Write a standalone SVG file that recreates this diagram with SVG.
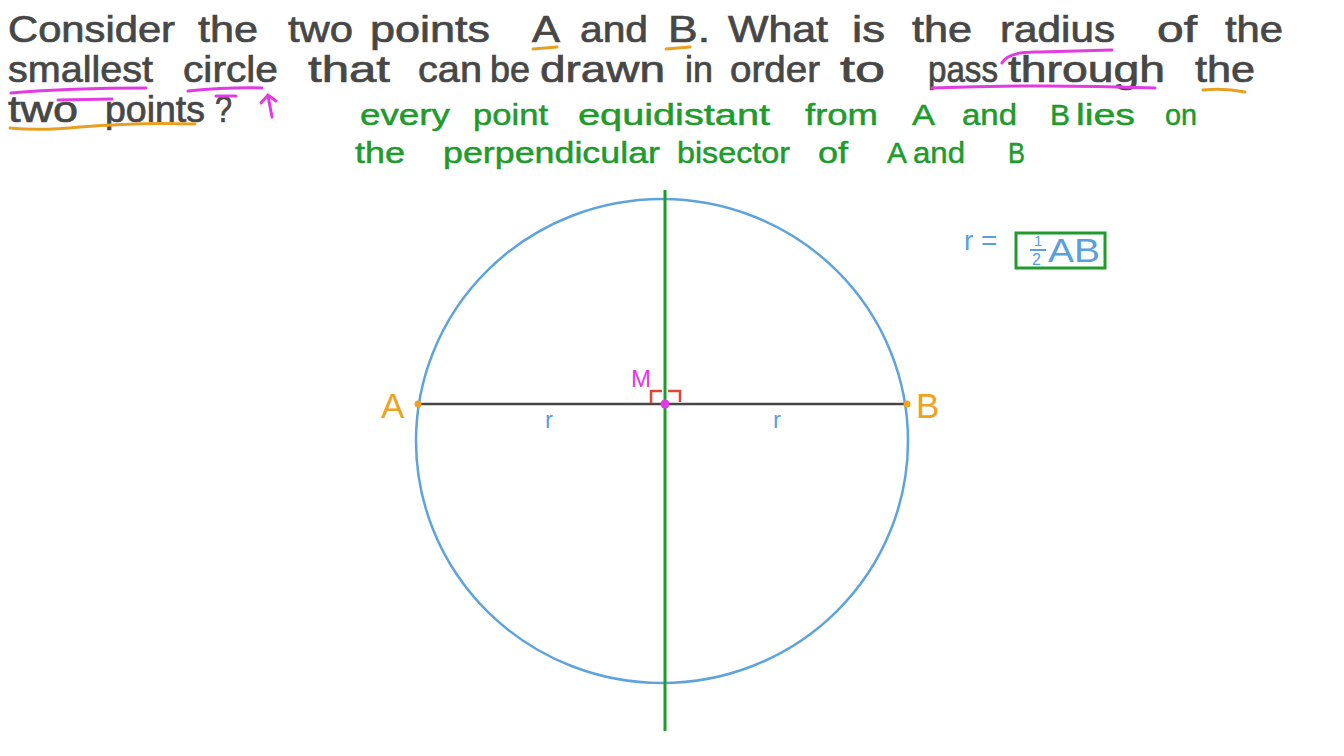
<svg xmlns="http://www.w3.org/2000/svg" width="1344" height="756" viewBox="0 0 1344 756">
<style>
.q{font-family:"Liberation Sans","Noto Sans",sans-serif;font-size:36px;fill:#474747;stroke:#474747;stroke-width:0.7}
.g{font-family:"Liberation Sans","Noto Sans",sans-serif;font-size:30px;fill:#1f9a2c;stroke:#1f9a2c;stroke-width:0.5}
.o{fill:none;stroke:#e9a021;stroke-width:3;stroke-linecap:round}
.m{fill:none;stroke:#e23be3;stroke-width:3;stroke-linecap:round}
.b{font-family:"Liberation Sans","Noto Sans",sans-serif;fill:#5aa0dc}
.lab{font-family:"Liberation Sans","Noto Sans",sans-serif;font-size:35px;fill:#eea21e}
</style>
<rect width="1344" height="756" fill="#ffffff"/>
<g id="question">
<text class="q" x="8" y="42" textLength="167" lengthAdjust="spacingAndGlyphs">Consider</text>
<text class="q" x="198" y="42" textLength="60" lengthAdjust="spacingAndGlyphs">the</text>
<text class="q" x="288" y="42" textLength="65" lengthAdjust="spacingAndGlyphs">two</text>
<text class="q" x="370" y="42" textLength="120" lengthAdjust="spacingAndGlyphs">points</text>
<text class="q" x="532" y="42" textLength="28" lengthAdjust="spacingAndGlyphs">A</text>
<text class="q" x="580" y="42" textLength="68" lengthAdjust="spacingAndGlyphs">and</text>
<text class="q" x="668" y="42" textLength="42" lengthAdjust="spacingAndGlyphs">B.</text>
<text class="q" x="728" y="42" textLength="100" lengthAdjust="spacingAndGlyphs">What</text>
<text class="q" x="852" y="42" textLength="33" lengthAdjust="spacingAndGlyphs">is</text>
<text class="q" x="912" y="42" textLength="60" lengthAdjust="spacingAndGlyphs">the</text>
<text class="q" x="1000" y="42" textLength="115" lengthAdjust="spacingAndGlyphs">radius</text>
<text class="q" x="1157" y="42" textLength="40" lengthAdjust="spacingAndGlyphs">of</text>
<text class="q" x="1225" y="42" textLength="58" lengthAdjust="spacingAndGlyphs">the</text>
<text class="q" x="8" y="82" textLength="145" lengthAdjust="spacingAndGlyphs">smallest</text>
<text class="q" x="183" y="82" textLength="95" lengthAdjust="spacingAndGlyphs">circle</text>
<text class="q" x="308" y="82" textLength="82" lengthAdjust="spacingAndGlyphs">that</text>
<text class="q" x="418" y="82" textLength="64" lengthAdjust="spacingAndGlyphs">can</text>
<text class="q" x="490" y="82" textLength="40" lengthAdjust="spacingAndGlyphs">be</text>
<text class="q" x="540" y="82" textLength="125" lengthAdjust="spacingAndGlyphs">drawn</text>
<text class="q" x="685" y="82" textLength="28" lengthAdjust="spacingAndGlyphs">in</text>
<text class="q" x="730" y="82" textLength="90" lengthAdjust="spacingAndGlyphs">order</text>
<text class="q" x="840" y="82" textLength="45" lengthAdjust="spacingAndGlyphs">to</text>
<text class="q" x="928" y="82" textLength="70" lengthAdjust="spacingAndGlyphs">pass</text>
<text class="q" x="1008" y="82" textLength="157" lengthAdjust="spacingAndGlyphs">through</text>
<text class="q" x="1195" y="82" textLength="60" lengthAdjust="spacingAndGlyphs">the</text>
<text class="q" x="8" y="122" textLength="70" lengthAdjust="spacingAndGlyphs">two</text>
<text class="q" x="105" y="122" textLength="100" lengthAdjust="spacingAndGlyphs">points</text>
<text class="q" x="215" y="122" textLength="17" lengthAdjust="spacingAndGlyphs">?</text>
</g>
<g id="underlines">
<path class="o" d="M533,49 L557,47"/>
<path class="o" d="M666,49 L690,47"/>
<path class="m" d="M1002,63 Q1008,51 1040,52 L1112,50"/>
<path class="m" d="M11,93 Q70,88 146,88"/>
<path class="m" d="M58,100 L112,99"/>
<path class="m" d="M188,91 Q230,87 262,88"/>
<path class="m" d="M216,96 L236,96"/>
<path class="m" d="M272,117 L268,96 M261,103 L268,95 L276,101"/>
<path class="m" d="M932,88 Q1040,84 1155,88"/>
<path class="o" d="M1203,90 Q1225,88 1245,92"/>
<path class="o" d="M10,128 Q40,131 80,127 Q140,122 195,124"/>
</g>
<g id="note">
<text class="g" x="360" y="125" textLength="90" lengthAdjust="spacingAndGlyphs">every</text>
<text class="g" x="473" y="125" textLength="75" lengthAdjust="spacingAndGlyphs">point</text>
<text class="g" x="578" y="125" textLength="192" lengthAdjust="spacingAndGlyphs">equidistant</text>
<text class="g" x="805" y="125" textLength="73" lengthAdjust="spacingAndGlyphs">from</text>
<text class="g" x="912" y="125" textLength="23" lengthAdjust="spacingAndGlyphs">A</text>
<text class="g" x="962" y="125" textLength="55" lengthAdjust="spacingAndGlyphs">and</text>
<text class="g" x="1050" y="125" textLength="20" lengthAdjust="spacingAndGlyphs">B</text>
<text class="g" x="1076" y="125" textLength="59" lengthAdjust="spacingAndGlyphs">lies</text>
<text class="g" x="1165" y="125" textLength="32" lengthAdjust="spacingAndGlyphs">on</text>
<text class="g" x="355" y="163" textLength="50" lengthAdjust="spacingAndGlyphs">the</text>
<text class="g" x="443" y="163" textLength="217" lengthAdjust="spacingAndGlyphs">perpendicular</text>
<text class="g" x="677" y="163" textLength="113" lengthAdjust="spacingAndGlyphs">bisector</text>
<text class="g" x="818" y="163" textLength="30" lengthAdjust="spacingAndGlyphs">of</text>
<text class="g" x="887" y="163" textLength="20" lengthAdjust="spacingAndGlyphs">A</text>
<text class="g" x="913" y="163" textLength="52" lengthAdjust="spacingAndGlyphs">and</text>
<text class="g" x="1008" y="163" textLength="17" lengthAdjust="spacingAndGlyphs">B</text>
</g>
<g id="circle">
<ellipse cx="662" cy="441" rx="246" ry="242" fill="none" stroke="#5ea3dc" stroke-width="2.5"/>
</g>
<g id="connectors">
<line x1="418" y1="404" x2="907" y2="404" stroke="#474747" stroke-width="2.5"/>
<line x1="665" y1="190" x2="665" y2="731" stroke="#1f9a2c" stroke-width="3"/>
<path d="M651,403 L651,391 L662,391 M668,391 L680,391 L680,402" fill="none" stroke="#e0453a" stroke-width="2.5"/>
</g>
<g id="pointA">
<circle cx="418" cy="404" r="3.5" fill="#eea21e"/>
<text class="lab" x="381" y="418">A</text>
</g>
<g id="pointB">
<circle cx="907" cy="404" r="3.5" fill="#eea21e"/>
<text class="lab" x="916" y="418">B</text>
</g>
<g id="pointM">
<circle cx="665" cy="404" r="4.5" fill="#e23be3"/>
<text x="631" y="387" font-family="Liberation Sans, sans-serif" font-size="24" fill="#e23be3">M</text>
</g>
<g id="radius-labels">
<text class="b" x="545" y="428" font-size="24">r</text>
<text class="b" x="773" y="428" font-size="24">r</text>
</g>
<g id="result">
<text class="b" x="964" y="250" font-size="28">r =</text>
<rect x="1016" y="233" width="89" height="35" fill="none" stroke="#1f9a2c" stroke-width="3"/>
<text class="b" x="1034" y="246" font-size="15">1</text>
<line x1="1030" y1="250" x2="1046" y2="250" stroke="#5aa0dc" stroke-width="2"/>
<text class="b" x="1032" y="265" font-size="16">2</text>
<text class="b" x="1048" y="262" font-size="34" textLength="52" lengthAdjust="spacingAndGlyphs">AB</text>
</g>
</svg>
